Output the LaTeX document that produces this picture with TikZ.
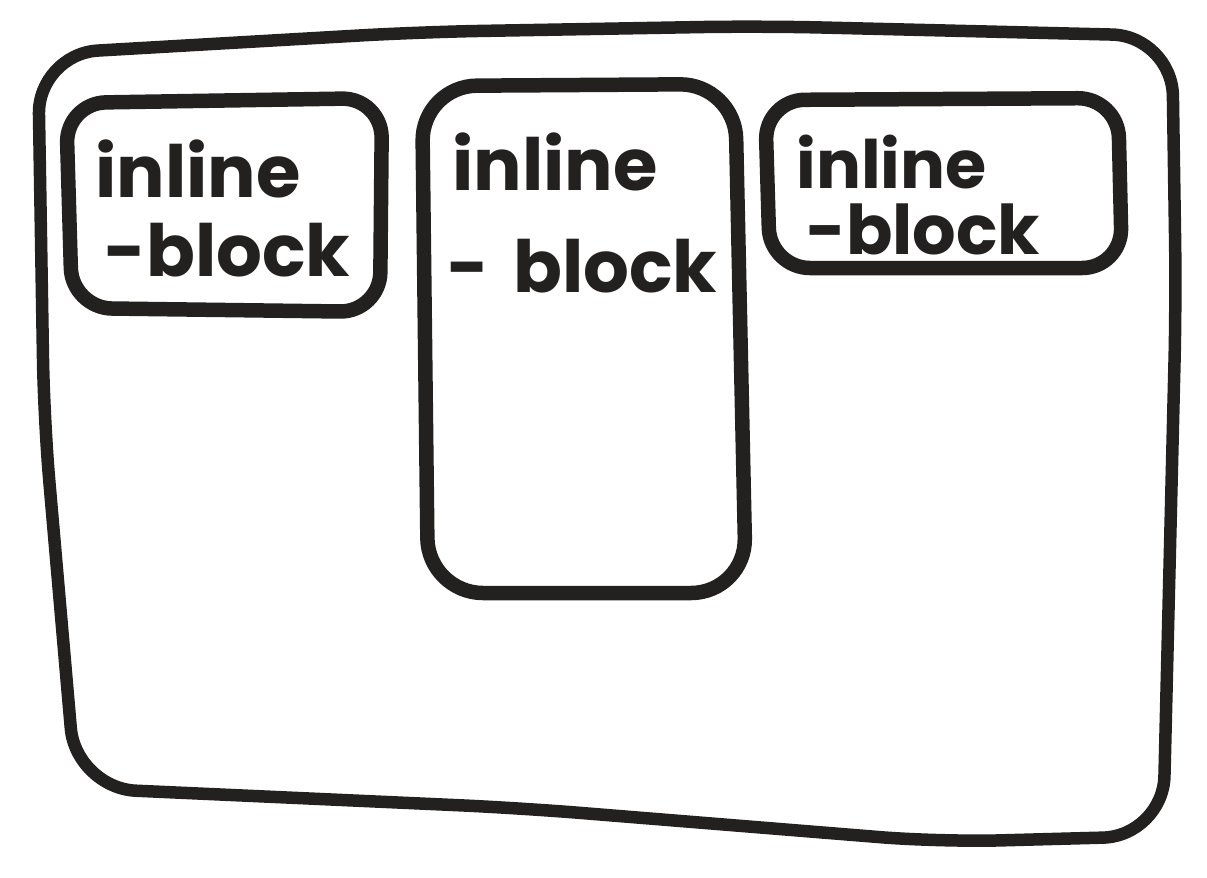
\documentclass[tikz,border=0pt]{standalone}
\usepackage{fontspec}
\newfontfamily\handfont{Poppins}
\definecolor{ink}{HTML}{222120}

\begin{document}
\begin{tikzpicture}[x=0.02cm, y=-0.02cm]
    \tikzstyle{every node}+=[inner sep=0pt, text=ink]
    \tikzstyle{sketch}=[draw=ink, line width=0.29cm, line join=round, line cap=round]
    \tikzstyle{hand}=[anchor=base west, font=\handfont\bfseries\fontsize{41}{48}\selectfont]
    \useasboundingbox (0,0) rectangle (1207,877);
    % outer container
    \coordinate (o1) at (38,54);
    \coordinate (o2) at (420,32);
    \coordinate (o3) at (760,26);
    \coordinate (o4) at (1172,36);
    \coordinate (o5) at (1176,300);
    \coordinate (o6) at (1163,836);
    \coordinate (o7) at (940,842);
    \coordinate (o8) at (520,808);
    \coordinate (o9) at (76,788);
    \coordinate (o10) at (44,420);
    \draw [sketch, line width=0.25cm, rounded corners=1.2cm] (o1) -- (o2) -- (o3) -- (o4) -- (o5) -- (o6) -- (o7) -- (o8) -- (o9) -- (o10) -- cycle;
    % first inline-block
    \coordinate (a1) at (66,103);
    \coordinate (a2) at (382,98);
    \coordinate (a3) at (380,312);
    \coordinate (a4) at (72,308);
    \draw [sketch, rounded corners=0.8cm] (a1) -- (a2) -- (a3) -- (a4) -- cycle;
    \node [hand] (a-top) at (95,197) {inline};
    \node [hand] (a-bot) at (104,276) {-block};
    % second inline-block (tall)
    \coordinate (b1) at (422,86);
    \coordinate (b2) at (735,84);
    \coordinate (b3) at (746,593);
    \coordinate (b4) at (428,593);
    \draw [sketch, rounded corners=1.1cm] (b1) -- (b2) -- (b3) -- (b4) -- cycle;
    \node [hand] (b-top) at (452,190) {inline};
    \node [hand] (b-bot) at (447,292) {-\,\,block};
    % third inline-block
    \coordinate (c1) at (765,100);
    \coordinate (c2) at (1118,98);
    \coordinate (c3) at (1122,268);
    \coordinate (c4) at (770,268);
    \draw [sketch, rounded corners=0.8cm] (c1) -- (c2) -- (c3) -- (c4) -- cycle;
    \node [hand, font=\handfont\bfseries\fontsize{38}{44}\selectfont] (c-top) at (796,188) {inline};
    \node [hand, font=\handfont\bfseries\fontsize{39}{44}\selectfont] (c-bot) at (806,254) {-block};
\end{tikzpicture}
\end{document}
